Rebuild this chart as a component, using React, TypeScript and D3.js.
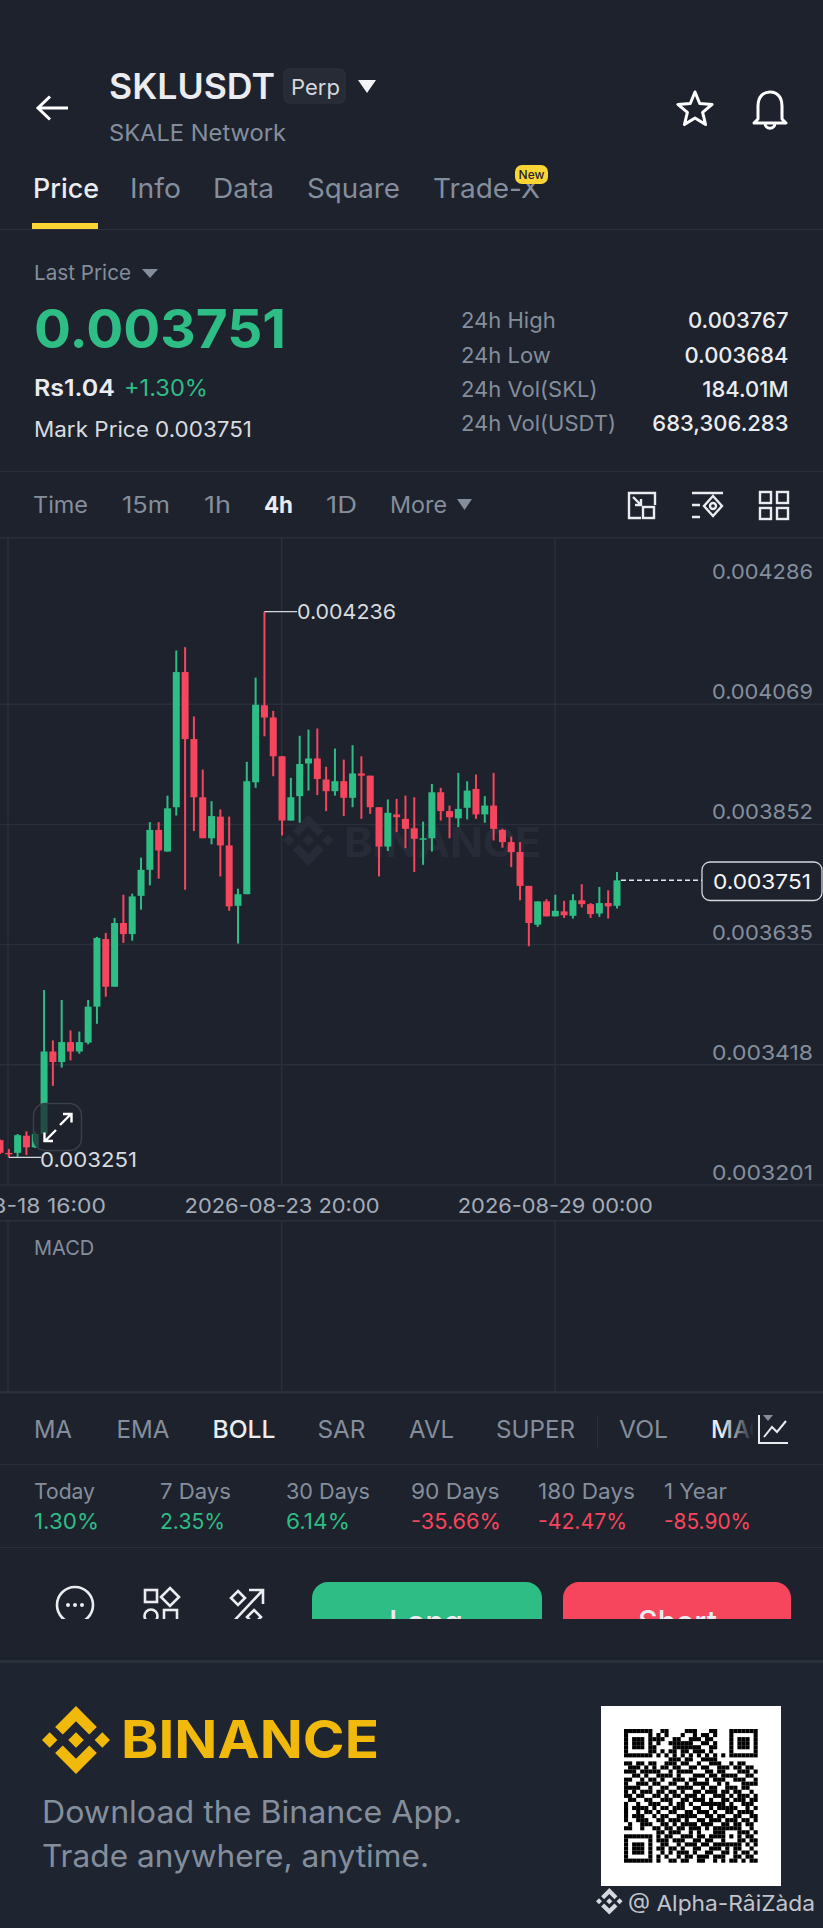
import React from "react";
import * as d3 from "d3";

// ---- chart data (millionths of USDT) ----
const opens = [3282,3259,3259,3290,3269,3293,3442,3423,3459,3442,3458,3523,3645,3559,3674,3654,3723,3770,3842,3803,3883,4127,4006,3901,3827,3866,3814,3705,3726,3928,4067,4045,3975,3859,3903,3962,3971,3933,3912,3930,3900,3944,3940,3883,3812,3870,3862,3845,3826,3827,3910,3876,3863,3882,3916,3870,3886,3842,3820,3802,3741,3671,3713,3686,3695,3687,3715,3708,3691,3710,3705];
const closes = [3259,3257,3291,3269,3293,3442,3423,3459,3442,3459,3523,3647,3559,3674,3654,3722,3770,3842,3805,3881,4127,4006,3901,3827,3867,3814,3704,3726,3930,4068,4045,3975,3859,3901,3961,3971,3934,3912,3930,3900,3944,3940,3883,3812,3873,3865,3844,3826,3827,3910,3876,3865,3880,3913,3870,3886,3844,3820,3802,3741,3674,3713,3686,3696,3688,3715,3708,3690,3710,3704,3751];
const highs = [3283,3266,3293,3298,3297,3553,3462,3535,3480,3478,3535,3649,3656,3683,3725,3727,3792,3856,3856,3904,4166,4172,4047,3951,3894,3879,3866,3736,3965,4117,4236,4057,3975,3936,4012,4023,4025,3956,3989,3969,3995,3975,3940,3883,3897,3898,3904,3901,3857,3925,3918,3886,3945,3930,3942,3903,3945,3844,3830,3820,3741,3713,3717,3725,3714,3726,3744,3710,3739,3733,3766];
const lows = [3257,3251,3252,3255,3268,3293,3380,3413,3426,3438,3455,3492,3541,3559,3638,3642,3698,3742,3754,3803,3868,3734,3840,3827,3816,3758,3696,3637,3726,3918,4011,3939,3832,3859,3855,3913,3905,3876,3904,3867,3883,3862,3871,3758,3804,3838,3809,3766,3779,3803,3859,3827,3847,3861,3862,3855,3823,3810,3775,3715,3632,3667,3686,3686,3683,3682,3702,3683,3685,3682,3700];
const priceTicks = [4286,4069,3852,3635,3418,3201];
const dateLabels = ["2026-08-18 16:00","2026-08-23 20:00","2026-08-29 00:00"];
const dateIndex = [0.95,32,63];
const lastPrice = 3751, highPrice = 4236, lowPrice = 3251;

// ---- page text ----
const tabs = ["Price","Info","Data","Square","Trade-X"];
const statLabels = ["24h High","24h Low","24h Vol(SKL)","24h Vol(USDT)"];
const statValues = ["0.003767","0.003684","184.01M","683,306.283"];
const intervals = ["Time","15m","1h","4h","1D","More"];
const indicators = ["MA","EMA","BOLL","SAR","AVL","SUPER","VOL","MACD"];
const periods = ["Today","7 Days","30 Days","90 Days","180 Days","1 Year"];
const changes = ["1.30%","2.35%","6.14%","-35.66%","-42.47%","-85.90%"];
const qrRows = [
"111111100110000111000110001111111","100000101010001001011010001000001","101110111100110011101100001011101","101110101001111110011010001011101","101110110000111111100110001011101","100000110101101101110100001000001","111111101010101010101010101111111","000000000001110110011110000000000",
"110110110011101100100111001011000","011101010110110011011001110110110","111011111001011110001101100011101","001101001111010001110110111100110","110010110100111011001011100111001","100111011001100101111001010001111","111100100110011110010110011101100","101011101101101001101110110110010","110110011010110111010011101011101","011001100111001101110100110111011","100100111001011010011111101001110","101111010110111001100101111100101","100101101001100110111010011011110","101110010110011111001101100110011","100111001101110100110111011101101","010011100110101111011100110110110",
"110010011011011011101011111110010","000000001101110010100011100011101","111111101011001110110111101010110","100000101110111001101100100011011","101110100110010111011011111110101","101110101101101001100111010110010","101110100101011101001100110101101","100000101010010110111011100110110","111111101001101100110010101101011"
];
const GREEN = "#2ebd85", RED = "#f6465d", GRAY = "#848e9c", LIGHT = "#eaecef", BG = "#1e222d", LINE = "#2b2f3b";
const FONT = "Inter, 'Noto Sans', sans-serif";
const LOGO = "M38.73 53.2l24.59-24.58 24.6 24.6 14.3-14.31L63.32 0 24.43 38.9zM0 63.31l14.3-14.3 14.31 14.3-14.31 14.3zM38.73 73.41l24.59 24.59 24.6-24.6 14.31 14.29-38.9 38.91-38.91-38.88-.02-.02zM98.01 63.31l14.3-14.3 14.3 14.3-14.3 14.3zM77.83 63.3L63.32 48.78 52.59 59.51l-1.24 1.23-2.54 2.54 14.51 14.5 14.51-14.47z";

const fmt = (v: number) => (v / 1e6).toFixed(6);

const T = ({ x, y, s, c = GRAY, w = 400, a = "start", len, ls, children }: any) => (
  <text x={x} y={y} fontSize={s} fill={c} fontWeight={w} textAnchor={a} fontFamily={FONT}
    letterSpacing={ls} textLength={len} lengthAdjust={len ? "spacingAndGlyphs" : undefined}>{children}</text>
);

const tabX = [33,130,213,307,433];
const tabLen = [66,51,61,93,107];
const statY = [328,363,397,431];
const intX = [33,122,204,264,326,390];
const intLen = [55,48,27,29,31,57];
const indX = [34,116.5,212.5,317.5,409,496,619,711];
const indLen = [38,53,63,48,45,79,49,undefined];
const perfX = [34,160,286,411,538,664];
const perioLen = [61,71,84,88.5,97,63];
const changeLen = [65,65,64,90,89,87];

export default function App() {
  const x = d3.scaleLinear().domain([0, 70]).range([0, 617]);
  const y = d3.scaleLinear().domain([3201, 4286]).range([1185, 584]);
  const starPts = d3.range(10).map(i => {
    const r = i % 2 ? 8 : 18, t = -Math.PI / 2 + i * Math.PI / 5;
    return [695 + r * Math.cos(t), 110 + r * Math.sin(t)] as [number, number];
  });
  const star = d3.line().curve(d3.curveLinearClosed)(starPts) || "";
  const vGrid = [8, 281.7, 555];
  return (
    <svg width={823} height={1928} viewBox="0 0 823 1928" style={{ position: "absolute", left: 0, top: 0, display: "block", background: BG }}>
      <defs>
        <clipPath id="plot"><rect x={0} y={537} width={823} height={650} /></clipPath>
        <clipPath id="btns"><rect x={0} y={1570} width={823} height={49} /></clipPath>
        <linearGradient id="fade" x1="0" x2="1" y1="0" y2="0">
          <stop offset="0" stopColor={BG} stopOpacity={0} /><stop offset="1" stopColor={BG} stopOpacity={1} />
        </linearGradient>
      </defs>

      {/* header */}
      <path d="M68 108H39M50 96.5L38 108L50 119.5" fill="none" stroke="#fff" strokeWidth={3} />
      <T x={109} y={99} s={35} c={LIGHT} w={600} len={166}>SKLUSDT</T>
      <rect x={284} y={69} width={61} height={34} rx={5} fill="#262b36" stroke="#2e333e" />
      <T x={291} y={95} s={21} c="#d5d8dc" len={49}>Perp</T>
      <path d="M358 80H376L367 93Z" fill="#f4f5f6" />
      <T x={109} y={141} s={23} len={177}>SKALE Network</T>
      <path d={star} fill="none" stroke="#fff" strokeWidth={3} strokeLinejoin="round" />
      <path d="M758 119V106C758 97 763 92 770 92C777 92 782 97 782 106V119L786 123H754ZM765 123C765 130 775 130 775 123" fill="none" stroke="#fff" strokeWidth={3} strokeLinejoin="round" />

      {/* tabs */}
      {tabs.map((t, i) => <T key={t} x={tabX[i]} y={198} s={27} c={i === 0 ? LIGHT : GRAY} w={i === 0 ? 500 : 400} len={tabLen[i]}>{t}</T>)}
      <rect x={32} y={223} width={66} height={6} fill="#fcd535" />
      <rect x={515} y={165} width={33} height={19} rx={7} fill="#fcd535" />
      <T x={531.5} y={179} s={12} c="#1e222d" w={500} a="middle">New</T>
      <rect x={0} y={229} width={823} height={1} fill={LINE} />

      {/* price block */}
      <T x={34} y={280} s={20.5} len={97}>Last Price</T>
      <path d="M142 269H158L150 278Z" fill={GRAY} />
      <T x={34} y={348} s={53} c={GREEN} w={700} len={252}>0.003751</T>
      <T x={34} y={396} s={23} c={LIGHT} w={600} len={81}>Rs1.04</T>
      <T x={124} y={396} s={22.5} c={GREEN} len={84}>+1.30%</T>
      <T x={34} y={437} s={21} c="#d8dbdf" len={218}>Mark Price 0.003751</T>
      {statLabels.map((t, i) => <T key={t} x={461} y={statY[i]} s={22}>{t}</T>)}
      {statValues.map((t, i) => <T key={t} x={788.5} y={statY[i]} s={22} c={LIGHT} w={500} a="end">{t}</T>)}
      <rect x={0} y={471} width={823} height={1} fill={LINE} />

      {/* interval row */}
      {intervals.map((t, i) => <T key={t} x={intX[i]} y={513} s={22.5} c={i === 3 ? LIGHT : GRAY} w={i === 3 ? 700 : 400} len={intLen[i]}>{t}</T>)}
      <path d="M457 499H472L464.5 510Z" fill={GRAY} />
      <g fill="none" stroke="#eaecef" strokeWidth={2.4}>
        <path d="M642 493H629V518H641M642 493H655V505" />
        <rect x={643} y={507} width={11} height={11} />
        <path d="M633 497L641 505M641 499V505H635" />
        <path d="M692 493H723M692 505H700M692 517H700M713 496L722 506L713 516L704 506Z" />
        <circle cx={713} cy={506} r={3} />
        <rect x={760} y={492} width={11} height={11} /><rect x={777} y={492} width={11} height={11} />
        <rect x={760} y={508} width={11} height={11} /><rect x={777} y={508} width={11} height={11} />
      </g>
      <rect x={0} y={537} width={823} height={1.5} fill={LINE} />

      {/* chart grid */}
      {vGrid.map(v => <g key={v}>
        <line x1={v} x2={v} y1={538} y2={1185} stroke={LINE} strokeWidth={1.5} />
        <line x1={v} x2={v} y1={1221} y2={1392} stroke={LINE} strokeWidth={1.5} />
      </g>)}
      {priceTicks.slice(1).map(t => <line key={t} x1={0} x2={823} y1={y(t)} y2={y(t)} stroke={LINE} strokeWidth={1.5} />)}
      <rect x={0} y={1220} width={823} height={1.5} fill={LINE} />

      {/* watermark */}
      <path d={LOGO} transform="translate(283,815) scale(0.4)" fill="#272b37" />
      <T x={344} y={857} s={41} c="#272b37" w={700} len={197}>BINANCE</T>

      {/* candles */}
      <g clipPath="url(#plot)">
        {opens.map((o, i) => {
          const c = closes[i], col = c >= o ? GREEN : RED;
          const top = y(Math.max(o, c)), bot = y(Math.min(o, c));
          return <g key={i}>
            <line x1={x(i)} x2={x(i)} y1={y(highs[i])} y2={y(lows[i])} stroke={col} strokeWidth={2} />
            <rect x={x(i) - 3.5} y={top} width={7} height={Math.max(bot - top, 1.5)} fill={col} />
          </g>;
        })}
      </g>

      {/* price axis */}
      {priceTicks.map(t => <T key={t} x={813} y={y(t) - 5} s={20.5} a="end" len={101}>{fmt(t)}</T>)}

      {/* high / low callouts */}
      <line x1={x(30)} x2={297} y1={y(highPrice)} y2={y(highPrice)} stroke="#d5d8dc" strokeWidth={1.3} />
      <T x={297} y={y(highPrice) + 7.5} s={20.5} c="#d8dbdf" len={99}>{fmt(highPrice)}</T>
      <line x1={x(1)} x2={41} y1={y(lowPrice)} y2={y(lowPrice)} stroke="#d5d8dc" strokeWidth={1.3} />
      <T x={40} y={y(lowPrice) + 9.5} s={20.5} c="#d8dbdf" len={97}>{fmt(lowPrice)}</T>

      {/* expand button */}
      <rect x={33.5} y={1103.5} width={48} height={47} rx={12} fill={BG} fillOpacity={0.72} stroke="#3a3f4b" strokeWidth={1.5} />
      <g fill="none" stroke="#fff" strokeWidth={2.4}>
        <path d="M60 1125L71 1114M63 1114H71.5V1122.5" />
        <path d="M56 1130L45 1141M53 1141H44.5V1132.5" />
      </g>

      {/* last price line and box */}
      <line x1={x(70) + 4} x2={702} y1={y(lastPrice)} y2={y(lastPrice)} stroke="#e5e7ea" strokeWidth={1.5} strokeDasharray="5 3" />
      <rect x={702} y={862} width={120} height={38.5} rx={8} fill={BG} stroke="#d5d8dc" strokeWidth={1.3} />
      <T x={762} y={889} s={20.5} c="#f5f6f7" w={400} a="middle" len={98}>{fmt(lastPrice)}</T>

      {/* date axis */}
      {dateLabels.map((d, i) => <T key={d} x={x(dateIndex[i])} y={1213} s={20.5} c="#a4acb8" a="middle" len={195}>{d}</T>)}

      <T x={34} y={1255} s={20}>MACD</T>
      <rect x={0} y={1391} width={823} height={2.5} fill={LINE} />

      {/* indicators */}
      {indicators.map((t, i) => <T key={t} x={indX[i]} y={1438} s={24} c={i === 2 || i === 7 ? LIGHT : GRAY} w={i === 2 || i === 7 ? 500 : 400} len={indLen[i]}>{t}</T>)}
      <rect x={722} y={1410} width={32} height={36} fill="url(#fade)" />
      <rect x={753} y={1410} width={40} height={36} fill={BG} />
      <rect x={597} y={1416} width={1} height={32} fill={LINE} />
      <path d="M759 1415V1443H788M764 1437L772 1427L777 1432L786 1421" fill="none" stroke="#eaecef" strokeWidth={2} />
      <path d="M763 1415H773L768 1421Z" fill={GRAY} />
      <rect x={0} y={1464} width={823} height={1} fill={LINE} />

      {/* performance */}
      {periods.map((t, i) => <T key={t} x={perfX[i]} y={1499} s={21.5} len={perioLen[i]}>{t}</T>)}
      {changes.map((t, i) => <T key={t} x={perfX[i]} y={1528.5} s={21.5} c={t.startsWith("-") ? RED : GREEN} len={changeLen[i]}>{t}</T>)}
      <rect x={0} y={1547} width={823} height={1} fill={LINE} />

      {/* action bar, cut off as in the picture */}
      <g clipPath="url(#btns)">
        <g fill="none" stroke="#eaecef" strokeWidth={2.6}>
          <circle cx={75} cy={1605} r={18} />
          <rect x={145} y={1590} width={12} height={12} />
          <path d="M170 1588L179 1597L170 1606L161 1597Z" />
          <circle cx={151} cy={1616} r={6.5} />
          <rect x={164} y={1610} width={13} height={13} />
          <path d="M233 1622L262 1591M249 1590H263V1604" />
          <path d="M238 1591L245 1598L238 1605L231 1598Z" />
          <path d="M254 1610L261 1617L254 1624L247 1617Z" />
        </g>
        <g fill="#eaecef"><circle cx={68} cy={1605} r={2} /><circle cx={75} cy={1605} r={2} /><circle cx={82} cy={1605} r={2} /></g>
        <rect x={312} y={1582} width={230} height={60} rx={16} fill="#2ebd85" />
        <rect x={563} y={1582} width={228} height={60} rx={16} fill={RED} />
        <T x={389} y={1633} s={31} c="#eaecef" w={500} len={74}>Long</T>
        <T x={638} y={1633} s={31} c="#eaecef" w={500} len={79}>Short</T>
      </g>

      {/* footer */}
      <rect x={0} y={1660} width={823} height={268} fill="#1e2530" />
      <rect x={0} y={1660} width={823} height={3} fill="#2b3139" />
      <path d={LOGO} transform="translate(42,1706) scale(0.537)" fill="#f0b90b" />
      <T x={121} y={1758} s={52} c="#f0b90b" w={700} len={258}>BINANCE</T>
      <T x={42} y={1823} s={31} len={420}>Download the Binance App.</T>
      <T x={42} y={1867} s={31} len={387}>Trade anywhere, anytime.</T>
      <rect x={601} y={1706} width={180} height={180} fill="#fff" />
      {qrRows.map((row, r) => row.split("").map((m, col) => m === "1"
        ? <rect key={`${r}-${col}`} x={624 + col * 4.05} y={1729 + r * 4.05} width={4.1} height={4.1} fill="#000" /> : null))}
      <path d={LOGO} transform="translate(596,1888) scale(0.21)" fill="#d5d8dc" />
      <T x={628} y={1911} s={22} c="#c0c4cb" len={187}>@ Alpha-RâiZàda</T>
    </svg>
  );
}
